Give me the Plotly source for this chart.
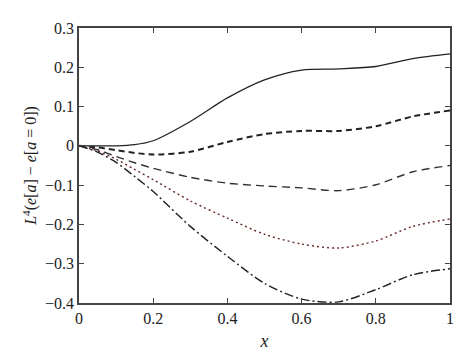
import plotly.graph_objects as go

x = [0.0, 0.05, 0.1, 0.15, 0.2, 0.3, 0.4, 0.5, 0.6, 0.7, 0.8, 0.9, 1.0]
solid = [0.0, 0.0, 0.0, 0.003, 0.013, 0.062, 0.122, 0.168, 0.193, 0.196, 0.202, 0.222, 0.234]
dash_heavy = [0.0, -0.004, -0.011, -0.018, -0.022, -0.015, 0.010, 0.030, 0.038, 0.038, 0.050, 0.075, 0.090]
dash_med = [0.0, -0.010, -0.027, -0.043, -0.057, -0.080, -0.095, -0.102, -0.107, -0.114, -0.099, -0.066, -0.050]
dotted = [0.0, -0.013, -0.034, -0.060, -0.086, -0.140, -0.184, -0.225, -0.250, -0.260, -0.242, -0.205, -0.186]
dashdot = [0.0, -0.016, -0.042, -0.078, -0.116, -0.205, -0.281, -0.350, -0.390, -0.397, -0.366, -0.328, -0.313]

series = [
    (solid, "solid", "#222222", 1.3),
    (dash_heavy, "6px,4px", "#222222", 2.0),
    (dash_med, "8px,5px", "#333333", 1.4),
    (dotted, "2px,3px", "#6a2a2a", 1.4),
    (dashdot, "9px,3px,2px,3px", "#222222", 1.4),
]

fig = go.Figure()
for ys, dash, col, w in series:
    fig.add_trace(go.Scatter(x=x, y=ys, mode="lines",
                             line=dict(color=col, width=w, dash=dash, shape="spline", smoothing=0.8),
                             showlegend=False, hoverinfo="skip"))

fam = "'Liberation Serif', 'DejaVu Serif', serif"
font = dict(family=fam, size=16, color="#222222")
axis_common = dict(showgrid=False, zeroline=False, showline=True, linecolor="#444444", linewidth=1.5,
                   mirror="ticks", ticks="inside", ticklen=5, tickcolor="#444444", tickwidth=1,
                   tickfont=font, automargin=False)
fig.update_xaxes(range=[0, 1], tickvals=[0, 0.2, 0.4, 0.6, 0.8, 1],
                 ticktext=["0", "0.2", "0.4", "0.6", "0.8", "1"],
                 title=dict(text="<i>x</i>", font=dict(family=fam, size=18, color="#222222"), standoff=8),
                 **axis_common)
fig.update_yaxes(range=[-0.4, 0.3], tickvals=[-0.4, -0.3, -0.2, -0.1, 0, 0.1, 0.2, 0.3],
                 ticktext=["\u22120.4", "\u22120.3", "\u22120.2", "\u22120.1", "0", "0.1", "0.2", "0.3"],
                 title=dict(text="<i>L</i><sup>4</sup>(<i>e</i>[<i>a</i>] \u2212 <i>e</i>[<i>a</i> = 0])",
                            font=dict(family=fam, size=16, color="#222222"), standoff=4),
                 **axis_common)
fig.update_layout(width=474, height=364, margin=dict(l=79, r=24, t=28, b=61),
                  plot_bgcolor="white", paper_bgcolor="white")
fig.write_html("out.html", config={"displayModeBar": False},
               post_script="document.body.style.margin='0';document.body.style.padding='0';")
